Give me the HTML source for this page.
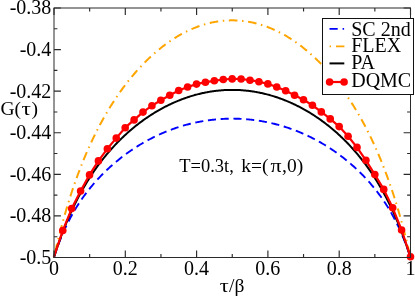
<!DOCTYPE html><html><head><meta charset="utf-8"><style>html,body{margin:0;padding:0;background:#fff}svg{display:block}</style></head><body><svg width="415" height="299" viewBox="0 0 415 299">
<rect width="415" height="299" fill="#fff"/>
<g font-family="'Liberation Serif', serif" font-size="19.5" fill="#000">
<path d="M53.85,257.70 L54.74,254.95 L55.63,252.29 L56.52,249.71 L57.42,247.21 L58.31,244.79 L59.20,242.43 L60.09,240.15 L60.98,237.93 L61.87,235.78 L62.77,233.68 L63.66,231.64 L64.55,229.65 L65.44,227.72 L66.33,225.83 L67.22,223.99 L68.12,222.20 L69.01,220.45 L69.90,218.74 L70.79,217.07 L71.68,215.44 L72.57,213.85 L73.47,212.28 L74.36,210.76 L75.25,209.26 L76.14,207.80 L77.03,206.36 L77.92,204.95 L78.82,203.57 L79.71,202.22 L80.60,200.89 L81.49,199.59 L82.38,198.31 L83.27,197.05 L84.17,195.81 L85.06,194.60 L85.95,193.40 L86.84,192.23 L87.73,191.07 L88.62,189.94 L89.52,188.82 L90.41,187.72 L91.30,186.63 L92.19,185.56 L93.08,184.51 L93.97,183.48 L94.86,182.45 L95.76,181.45 L96.65,180.45 L97.54,179.47 L98.43,178.51 L99.32,177.56 L100.21,176.62 L101.11,175.69 L102.00,174.78 L102.89,173.88 L103.78,172.98 L104.67,172.11 L105.56,171.24 L106.46,170.38 L107.35,169.54 L108.24,168.70 L109.13,167.88 L110.02,167.06 L110.91,166.26 L111.81,165.46 L112.70,164.68 L113.59,163.90 L114.48,163.14 L115.37,162.38 L116.26,161.64 L117.16,160.90 L118.05,160.17 L118.94,159.45 L119.83,158.74 L120.72,158.03 L121.61,157.34 L122.51,156.65 L123.40,155.97 L124.29,155.30 L125.18,154.64 L126.07,153.98 L126.96,153.34 L127.85,152.70 L128.75,152.07 L129.64,151.44 L130.53,150.83 L131.42,150.22 L132.31,149.61 L133.20,149.02 L134.10,148.43 L134.99,147.85 L135.88,147.28 L136.77,146.71 L137.66,146.15 L138.55,145.60 L139.45,145.05 L140.34,144.51 L141.23,143.98 L142.12,143.46 L143.01,142.94 L143.90,142.42 L144.80,141.92 L145.69,141.42 L146.58,140.92 L147.47,140.44 L148.36,139.96 L149.25,139.48 L150.15,139.01 L151.04,138.55 L151.93,138.09 L152.82,137.64 L153.71,137.20 L154.60,136.76 L155.50,136.33 L156.39,135.90 L157.28,135.48 L158.17,135.07 L159.06,134.66 L159.95,134.25 L160.84,133.86 L161.74,133.46 L162.63,133.08 L163.52,132.70 L164.41,132.32 L165.30,131.95 L166.19,131.59 L167.09,131.23 L167.98,130.88 L168.87,130.53 L169.76,130.19 L170.65,129.86 L171.54,129.52 L172.44,129.20 L173.33,128.88 L174.22,128.56 L175.11,128.25 L176.00,127.95 L176.89,127.65 L177.79,127.36 L178.68,127.07 L179.57,126.78 L180.46,126.51 L181.35,126.23 L182.24,125.96 L183.14,125.70 L184.03,125.44 L184.92,125.19 L185.81,124.94 L186.70,124.70 L187.59,124.46 L188.49,124.23 L189.38,124.00 L190.27,123.78 L191.16,123.56 L192.05,123.35 L192.94,123.14 L193.84,122.94 L194.73,122.74 L195.62,122.54 L196.51,122.36 L197.40,122.17 L198.29,121.99 L199.18,121.82 L200.08,121.65 L200.97,121.48 L201.86,121.32 L202.75,121.17 L203.64,121.02 L204.53,120.87 L205.43,120.73 L206.32,120.60 L207.21,120.46 L208.10,120.34 L208.99,120.22 L209.88,120.10 L210.78,119.99 L211.67,119.88 L212.56,119.77 L213.45,119.68 L214.34,119.58 L215.23,119.49 L216.13,119.41 L217.02,119.33 L217.91,119.25 L218.80,119.18 L219.69,119.11 L220.58,119.05 L221.48,118.99 L222.37,118.94 L223.26,118.89 L224.15,118.85 L225.04,118.81 L225.93,118.78 L226.83,118.75 L227.72,118.72 L228.61,118.70 L229.50,118.69 L230.39,118.67 L231.28,118.67 L232.17,118.67 L233.07,118.67 L233.96,118.67 L234.85,118.69 L235.74,118.70 L236.63,118.72 L237.52,118.75 L238.42,118.78 L239.31,118.81 L240.20,118.85 L241.09,118.89 L241.98,118.94 L242.87,118.99 L243.77,119.05 L244.66,119.11 L245.55,119.18 L246.44,119.25 L247.33,119.33 L248.22,119.41 L249.12,119.49 L250.01,119.58 L250.90,119.68 L251.79,119.77 L252.68,119.88 L253.57,119.99 L254.47,120.10 L255.36,120.22 L256.25,120.34 L257.14,120.46 L258.03,120.60 L258.92,120.73 L259.82,120.87 L260.71,121.02 L261.60,121.17 L262.49,121.32 L263.38,121.48 L264.27,121.65 L265.17,121.82 L266.06,121.99 L266.95,122.17 L267.84,122.36 L268.73,122.54 L269.62,122.74 L270.51,122.94 L271.41,123.14 L272.30,123.35 L273.19,123.56 L274.08,123.78 L274.97,124.00 L275.86,124.23 L276.76,124.46 L277.65,124.70 L278.54,124.94 L279.43,125.19 L280.32,125.44 L281.21,125.70 L282.11,125.96 L283.00,126.23 L283.89,126.51 L284.78,126.78 L285.67,127.07 L286.56,127.36 L287.46,127.65 L288.35,127.95 L289.24,128.25 L290.13,128.56 L291.02,128.88 L291.91,129.20 L292.81,129.52 L293.70,129.86 L294.59,130.19 L295.48,130.53 L296.37,130.88 L297.26,131.23 L298.16,131.59 L299.05,131.95 L299.94,132.32 L300.83,132.70 L301.72,133.08 L302.61,133.46 L303.50,133.86 L304.40,134.25 L305.29,134.66 L306.18,135.07 L307.07,135.48 L307.96,135.90 L308.85,136.33 L309.75,136.76 L310.64,137.20 L311.53,137.64 L312.42,138.09 L313.31,138.55 L314.20,139.01 L315.10,139.48 L315.99,139.96 L316.88,140.44 L317.77,140.92 L318.66,141.42 L319.55,141.92 L320.45,142.42 L321.34,142.94 L322.23,143.46 L323.12,143.98 L324.01,144.51 L324.90,145.05 L325.80,145.60 L326.69,146.15 L327.58,146.71 L328.47,147.28 L329.36,147.85 L330.25,148.43 L331.15,149.02 L332.04,149.61 L332.93,150.22 L333.82,150.83 L334.71,151.44 L335.60,152.07 L336.50,152.70 L337.39,153.34 L338.28,153.98 L339.17,154.64 L340.06,155.30 L340.95,155.97 L341.84,156.65 L342.74,157.34 L343.63,158.03 L344.52,158.74 L345.41,159.45 L346.30,160.17 L347.19,160.90 L348.09,161.64 L348.98,162.38 L349.87,163.14 L350.76,163.90 L351.65,164.68 L352.54,165.46 L353.44,166.26 L354.33,167.06 L355.22,167.88 L356.11,168.70 L357.00,169.54 L357.89,170.38 L358.79,171.24 L359.68,172.11 L360.57,172.98 L361.46,173.88 L362.35,174.78 L363.24,175.69 L364.14,176.62 L365.03,177.56 L365.92,178.51 L366.81,179.47 L367.70,180.45 L368.59,181.45 L369.49,182.45 L370.38,183.48 L371.27,184.51 L372.16,185.56 L373.05,186.63 L373.94,187.72 L374.84,188.82 L375.73,189.94 L376.62,191.07 L377.51,192.23 L378.40,193.40 L379.29,194.60 L380.18,195.81 L381.08,197.05 L381.97,198.31 L382.86,199.59 L383.75,200.89 L384.64,202.22 L385.53,203.57 L386.43,204.95 L387.32,206.36 L388.21,207.80 L389.10,209.26 L389.99,210.76 L390.88,212.28 L391.78,213.85 L392.67,215.44 L393.56,217.07 L394.45,218.74 L395.34,220.45 L396.23,222.20 L397.13,223.99 L398.02,225.83 L398.91,227.72 L399.80,229.65 L400.69,231.64 L401.58,233.68 L402.48,235.78 L403.37,237.93 L404.26,240.15 L405.15,242.43 L406.04,244.79 L406.93,247.21 L407.83,249.71 L408.72,252.29 L409.61,254.95 L410.50,257.70" fill="none" stroke="#0000ff" stroke-width="1.9" stroke-dasharray="8.1,4.68" stroke-dashoffset="-0.8"/>
<path d="M53.85,257.65 L54.74,253.75 L55.63,249.92 L56.52,246.17 L57.42,242.50 L58.31,238.90 L59.20,235.36 L60.09,231.90 L60.98,228.50 L61.87,225.17 L62.77,221.90 L63.66,218.69 L64.55,215.54 L65.44,212.44 L66.33,209.41 L67.22,206.42 L68.12,203.49 L69.01,200.62 L69.90,197.79 L70.79,195.01 L71.68,192.28 L72.57,189.60 L73.47,186.96 L74.36,184.37 L75.25,181.82 L76.14,179.31 L77.03,176.85 L77.92,174.42 L78.82,172.03 L79.71,169.68 L80.60,167.37 L81.49,165.09 L82.38,162.85 L83.27,160.64 L84.17,158.47 L85.06,156.33 L85.95,154.22 L86.84,152.15 L87.73,150.10 L88.62,148.09 L89.52,146.10 L90.41,144.14 L91.30,142.22 L92.19,140.31 L93.08,138.44 L93.97,136.59 L94.86,134.77 L95.76,132.97 L96.65,131.20 L97.54,129.45 L98.43,127.72 L99.32,126.02 L100.21,124.34 L101.11,122.69 L102.00,121.05 L102.89,119.44 L103.78,117.84 L104.67,116.27 L105.56,114.72 L106.46,113.19 L107.35,111.68 L108.24,110.18 L109.13,108.71 L110.02,107.25 L110.91,105.82 L111.81,104.40 L112.70,103.00 L113.59,101.61 L114.48,100.25 L115.37,98.89 L116.26,97.56 L117.16,96.24 L118.05,94.94 L118.94,93.66 L119.83,92.39 L120.72,91.13 L121.61,89.89 L122.51,88.67 L123.40,87.46 L124.29,86.26 L125.18,85.08 L126.07,83.91 L126.96,82.76 L127.85,81.62 L128.75,80.49 L129.64,79.38 L130.53,78.28 L131.42,77.20 L132.31,76.12 L133.20,75.06 L134.10,74.02 L134.99,72.98 L135.88,71.96 L136.77,70.95 L137.66,69.95 L138.55,68.97 L139.45,67.99 L140.34,67.03 L141.23,66.08 L142.12,65.14 L143.01,64.21 L143.90,63.30 L144.80,62.39 L145.69,61.50 L146.58,60.62 L147.47,59.75 L148.36,58.89 L149.25,58.04 L150.15,57.20 L151.04,56.37 L151.93,55.56 L152.82,54.75 L153.71,53.95 L154.60,53.17 L155.50,52.39 L156.39,51.63 L157.28,50.88 L158.17,50.13 L159.06,49.40 L159.95,48.67 L160.84,47.96 L161.74,47.26 L162.63,46.56 L163.52,45.88 L164.41,45.20 L165.30,44.54 L166.19,43.88 L167.09,43.24 L167.98,42.60 L168.87,41.97 L169.76,41.36 L170.65,40.75 L171.54,40.15 L172.44,39.56 L173.33,38.99 L174.22,38.42 L175.11,37.86 L176.00,37.30 L176.89,36.76 L177.79,36.23 L178.68,35.71 L179.57,35.19 L180.46,34.69 L181.35,34.19 L182.24,33.70 L183.14,33.23 L184.03,32.76 L184.92,32.30 L185.81,31.84 L186.70,31.40 L187.59,30.97 L188.49,30.55 L189.38,30.13 L190.27,29.72 L191.16,29.33 L192.05,28.94 L192.94,28.56 L193.84,28.18 L194.73,27.82 L195.62,27.47 L196.51,27.12 L197.40,26.79 L198.29,26.46 L199.18,26.14 L200.08,25.83 L200.97,25.53 L201.86,25.23 L202.75,24.95 L203.64,24.67 L204.53,24.41 L205.43,24.15 L206.32,23.90 L207.21,23.66 L208.10,23.42 L208.99,23.20 L209.88,22.98 L210.78,22.77 L211.67,22.58 L212.56,22.39 L213.45,22.20 L214.34,22.03 L215.23,21.87 L216.13,21.71 L217.02,21.56 L217.91,21.42 L218.80,21.29 L219.69,21.17 L220.58,21.05 L221.48,20.95 L222.37,20.85 L223.26,20.76 L224.15,20.68 L225.04,20.61 L225.93,20.55 L226.83,20.49 L227.72,20.45 L228.61,20.41 L229.50,20.38 L230.39,20.36 L231.28,20.35 L232.17,20.34 L233.07,20.35 L233.96,20.36 L234.85,20.38 L235.74,20.41 L236.63,20.45 L237.52,20.49 L238.42,20.55 L239.31,20.61 L240.20,20.68 L241.09,20.76 L241.98,20.85 L242.87,20.95 L243.77,21.05 L244.66,21.17 L245.55,21.29 L246.44,21.42 L247.33,21.56 L248.22,21.71 L249.12,21.87 L250.01,22.03 L250.90,22.20 L251.79,22.39 L252.68,22.58 L253.57,22.77 L254.47,22.98 L255.36,23.20 L256.25,23.42 L257.14,23.66 L258.03,23.90 L258.92,24.15 L259.82,24.41 L260.71,24.67 L261.60,24.95 L262.49,25.23 L263.38,25.53 L264.27,25.83 L265.17,26.14 L266.06,26.46 L266.95,26.79 L267.84,27.12 L268.73,27.47 L269.62,27.82 L270.51,28.18 L271.41,28.56 L272.30,28.94 L273.19,29.33 L274.08,29.72 L274.97,30.13 L275.86,30.55 L276.76,30.97 L277.65,31.40 L278.54,31.84 L279.43,32.30 L280.32,32.76 L281.21,33.23 L282.11,33.70 L283.00,34.19 L283.89,34.69 L284.78,35.19 L285.67,35.71 L286.56,36.23 L287.46,36.76 L288.35,37.30 L289.24,37.86 L290.13,38.42 L291.02,38.99 L291.91,39.56 L292.81,40.15 L293.70,40.75 L294.59,41.36 L295.48,41.97 L296.37,42.60 L297.26,43.24 L298.16,43.88 L299.05,44.54 L299.94,45.20 L300.83,45.88 L301.72,46.56 L302.61,47.26 L303.50,47.96 L304.40,48.67 L305.29,49.40 L306.18,50.13 L307.07,50.88 L307.96,51.63 L308.85,52.39 L309.75,53.17 L310.64,53.95 L311.53,54.75 L312.42,55.56 L313.31,56.37 L314.20,57.20 L315.10,58.04 L315.99,58.89 L316.88,59.75 L317.77,60.62 L318.66,61.50 L319.55,62.39 L320.45,63.30 L321.34,64.21 L322.23,65.14 L323.12,66.08 L324.01,67.03 L324.90,67.99 L325.80,68.97 L326.69,69.95 L327.58,70.95 L328.47,71.96 L329.36,72.98 L330.25,74.02 L331.15,75.06 L332.04,76.12 L332.93,77.20 L333.82,78.28 L334.71,79.38 L335.60,80.49 L336.50,81.62 L337.39,82.76 L338.28,83.91 L339.17,85.08 L340.06,86.26 L340.95,87.46 L341.84,88.67 L342.74,89.89 L343.63,91.13 L344.52,92.39 L345.41,93.66 L346.30,94.94 L347.19,96.24 L348.09,97.56 L348.98,98.89 L349.87,100.25 L350.76,101.61 L351.65,103.00 L352.54,104.40 L353.44,105.82 L354.33,107.25 L355.22,108.71 L356.11,110.18 L357.00,111.68 L357.89,113.19 L358.79,114.72 L359.68,116.27 L360.57,117.84 L361.46,119.44 L362.35,121.05 L363.24,122.69 L364.14,124.34 L365.03,126.02 L365.92,127.72 L366.81,129.45 L367.70,131.20 L368.59,132.97 L369.49,134.77 L370.38,136.59 L371.27,138.44 L372.16,140.31 L373.05,142.22 L373.94,144.14 L374.84,146.10 L375.73,148.09 L376.62,150.10 L377.51,152.15 L378.40,154.22 L379.29,156.33 L380.18,158.47 L381.08,160.64 L381.97,162.85 L382.86,165.09 L383.75,167.37 L384.64,169.68 L385.53,172.03 L386.43,174.42 L387.32,176.85 L388.21,179.31 L389.10,181.82 L389.99,184.37 L390.88,186.96 L391.78,189.60 L392.67,192.28 L393.56,195.01 L394.45,197.79 L395.34,200.62 L396.23,203.49 L397.13,206.42 L398.02,209.41 L398.91,212.44 L399.80,215.54 L400.69,218.69 L401.58,221.90 L402.48,225.17 L403.37,228.50 L404.26,231.90 L405.15,235.36 L406.04,238.90 L406.93,242.50 L407.83,246.17 L408.72,249.92 L409.61,253.75 L410.50,257.65" fill="none" stroke="#ffa500" stroke-width="2" stroke-dasharray="1.5,4.6,8.6,4.6" stroke-dashoffset="0.5"/>
<path d="M53.85,257.50 L54.74,254.70 L55.63,251.96 L56.52,249.28 L57.42,246.64 L58.31,244.06 L59.20,241.53 L60.09,239.05 L60.98,236.62 L61.87,234.24 L62.77,231.90 L63.66,229.60 L64.55,227.35 L65.44,225.14 L66.33,222.97 L67.22,220.84 L68.12,218.75 L69.01,216.70 L69.90,214.68 L70.79,212.70 L71.68,210.76 L72.57,208.85 L73.47,206.97 L74.36,205.12 L75.25,203.30 L76.14,201.52 L77.03,199.76 L77.92,198.04 L78.82,196.34 L79.71,194.67 L80.60,193.03 L81.49,191.41 L82.38,189.82 L83.27,188.25 L84.17,186.71 L85.06,185.20 L85.95,183.70 L86.84,182.23 L87.73,180.78 L88.62,179.35 L89.52,177.95 L90.41,176.56 L91.30,175.20 L92.19,173.85 L93.08,172.53 L93.97,171.22 L94.86,169.93 L95.76,168.66 L96.65,167.41 L97.54,166.18 L98.43,164.96 L99.32,163.76 L100.21,162.58 L101.11,161.41 L102.00,160.26 L102.89,159.12 L103.78,158.00 L104.67,156.89 L105.56,155.80 L106.46,154.72 L107.35,153.66 L108.24,152.61 L109.13,151.57 L110.02,150.55 L110.91,149.54 L111.81,148.54 L112.70,147.56 L113.59,146.59 L114.48,145.63 L115.37,144.68 L116.26,143.74 L117.16,142.82 L118.05,141.91 L118.94,141.01 L119.83,140.11 L120.72,139.24 L121.61,138.37 L122.51,137.51 L123.40,136.66 L124.29,135.82 L125.18,135.00 L126.07,134.18 L126.96,133.37 L127.85,132.58 L128.75,131.79 L129.64,131.01 L130.53,130.24 L131.42,129.48 L132.31,128.73 L133.20,127.99 L134.10,127.26 L134.99,126.54 L135.88,125.83 L136.77,125.12 L137.66,124.42 L138.55,123.74 L139.45,123.06 L140.34,122.38 L141.23,121.72 L142.12,121.07 L143.01,120.42 L143.90,119.78 L144.80,119.15 L145.69,118.53 L146.58,117.91 L147.47,117.31 L148.36,116.71 L149.25,116.11 L150.15,115.53 L151.04,114.95 L151.93,114.38 L152.82,113.82 L153.71,113.27 L154.60,112.72 L155.50,112.18 L156.39,111.65 L157.28,111.12 L158.17,110.61 L159.06,110.09 L159.95,109.59 L160.84,109.09 L161.74,108.60 L162.63,108.12 L163.52,107.64 L164.41,107.17 L165.30,106.71 L166.19,106.26 L167.09,105.81 L167.98,105.36 L168.87,104.93 L169.76,104.50 L170.65,104.08 L171.54,103.66 L172.44,103.25 L173.33,102.85 L174.22,102.45 L175.11,102.06 L176.00,101.68 L176.89,101.30 L177.79,100.93 L178.68,100.57 L179.57,100.21 L180.46,99.86 L181.35,99.51 L182.24,99.17 L183.14,98.84 L184.03,98.52 L184.92,98.20 L185.81,97.88 L186.70,97.57 L187.59,97.27 L188.49,96.98 L189.38,96.69 L190.27,96.41 L191.16,96.13 L192.05,95.86 L192.94,95.60 L193.84,95.34 L194.73,95.08 L195.62,94.84 L196.51,94.60 L197.40,94.36 L198.29,94.14 L199.18,93.91 L200.08,93.70 L200.97,93.49 L201.86,93.29 L202.75,93.09 L203.64,92.90 L204.53,92.71 L205.43,92.53 L206.32,92.36 L207.21,92.19 L208.10,92.03 L208.99,91.87 L209.88,91.72 L210.78,91.58 L211.67,91.44 L212.56,91.31 L213.45,91.18 L214.34,91.06 L215.23,90.94 L216.13,90.84 L217.02,90.73 L217.91,90.64 L218.80,90.55 L219.69,90.46 L220.58,90.38 L221.48,90.31 L222.37,90.24 L223.26,90.18 L224.15,90.12 L225.04,90.07 L225.93,90.03 L226.83,89.99 L227.72,89.96 L228.61,89.93 L229.50,89.91 L230.39,89.90 L231.28,89.89 L232.17,89.89 L233.07,89.89 L233.96,89.90 L234.85,89.91 L235.74,89.93 L236.63,89.96 L237.52,89.99 L238.42,90.03 L239.31,90.07 L240.20,90.12 L241.09,90.18 L241.98,90.24 L242.87,90.31 L243.77,90.38 L244.66,90.46 L245.55,90.55 L246.44,90.64 L247.33,90.73 L248.22,90.84 L249.12,90.94 L250.01,91.06 L250.90,91.18 L251.79,91.31 L252.68,91.44 L253.57,91.58 L254.47,91.72 L255.36,91.87 L256.25,92.03 L257.14,92.19 L258.03,92.36 L258.92,92.53 L259.82,92.71 L260.71,92.90 L261.60,93.09 L262.49,93.29 L263.38,93.49 L264.27,93.70 L265.17,93.91 L266.06,94.14 L266.95,94.36 L267.84,94.60 L268.73,94.84 L269.62,95.08 L270.51,95.34 L271.41,95.60 L272.30,95.86 L273.19,96.13 L274.08,96.41 L274.97,96.69 L275.86,96.98 L276.76,97.27 L277.65,97.57 L278.54,97.88 L279.43,98.20 L280.32,98.52 L281.21,98.84 L282.11,99.17 L283.00,99.51 L283.89,99.86 L284.78,100.21 L285.67,100.57 L286.56,100.93 L287.46,101.30 L288.35,101.68 L289.24,102.06 L290.13,102.45 L291.02,102.85 L291.91,103.25 L292.81,103.66 L293.70,104.08 L294.59,104.50 L295.48,104.93 L296.37,105.36 L297.26,105.81 L298.16,106.26 L299.05,106.71 L299.94,107.17 L300.83,107.64 L301.72,108.12 L302.61,108.60 L303.50,109.09 L304.40,109.59 L305.29,110.09 L306.18,110.61 L307.07,111.12 L307.96,111.65 L308.85,112.18 L309.75,112.72 L310.64,113.27 L311.53,113.82 L312.42,114.38 L313.31,114.95 L314.20,115.53 L315.10,116.11 L315.99,116.71 L316.88,117.31 L317.77,117.91 L318.66,118.53 L319.55,119.15 L320.45,119.78 L321.34,120.42 L322.23,121.07 L323.12,121.72 L324.01,122.38 L324.90,123.06 L325.80,123.74 L326.69,124.42 L327.58,125.12 L328.47,125.83 L329.36,126.54 L330.25,127.26 L331.15,127.99 L332.04,128.73 L332.93,129.48 L333.82,130.24 L334.71,131.01 L335.60,131.79 L336.50,132.58 L337.39,133.37 L338.28,134.18 L339.17,135.00 L340.06,135.82 L340.95,136.66 L341.84,137.51 L342.74,138.37 L343.63,139.24 L344.52,140.11 L345.41,141.01 L346.30,141.91 L347.19,142.82 L348.09,143.74 L348.98,144.68 L349.87,145.63 L350.76,146.59 L351.65,147.56 L352.54,148.54 L353.44,149.54 L354.33,150.55 L355.22,151.57 L356.11,152.61 L357.00,153.66 L357.89,154.72 L358.79,155.80 L359.68,156.89 L360.57,158.00 L361.46,159.12 L362.35,160.26 L363.24,161.41 L364.14,162.58 L365.03,163.76 L365.92,164.96 L366.81,166.18 L367.70,167.41 L368.59,168.66 L369.49,169.93 L370.38,171.22 L371.27,172.53 L372.16,173.85 L373.05,175.20 L373.94,176.56 L374.84,177.95 L375.73,179.35 L376.62,180.78 L377.51,182.23 L378.40,183.70 L379.29,185.20 L380.18,186.71 L381.08,188.25 L381.97,189.82 L382.86,191.41 L383.75,193.03 L384.64,194.67 L385.53,196.34 L386.43,198.04 L387.32,199.76 L388.21,201.52 L389.10,203.30 L389.99,205.12 L390.88,206.97 L391.78,208.85 L392.67,210.76 L393.56,212.70 L394.45,214.68 L395.34,216.70 L396.23,218.75 L397.13,220.84 L398.02,222.97 L398.91,225.14 L399.80,227.35 L400.69,229.60 L401.58,231.90 L402.48,234.24 L403.37,236.62 L404.26,239.05 L405.15,241.53 L406.04,244.06 L406.93,246.64 L407.83,249.28 L408.72,251.96 L409.61,254.70 L410.50,257.50" fill="none" stroke="#000" stroke-width="2"/>
<path d="M53.85,257.20 L62.77,230.60 L71.68,208.60 L80.60,191.00 L89.52,174.90 L98.43,160.90 L107.35,148.80 L116.26,138.10 L125.18,127.70 L134.10,119.90 L143.01,112.10 L151.93,105.70 L160.84,100.30 L169.76,95.20 L178.68,90.50 L187.59,87.00 L196.51,84.10 L205.43,82.20 L214.34,80.80 L223.26,79.50 L232.17,78.90 L241.09,79.00 L250.01,80.20 L258.92,81.70 L267.84,83.90 L276.76,87.00 L285.67,90.80 L294.59,95.30 L303.50,99.80 L312.42,105.25 L321.34,111.90 L330.25,118.90 L339.17,126.60 L348.09,136.20 L357.00,147.40 L365.92,160.30 L374.84,174.60 L383.75,189.40 L392.67,207.80 L401.58,230.00 L410.50,256.80" fill="none" stroke="#ff0000" stroke-width="2.2" stroke-linejoin="round"/>
<circle cx="62.77" cy="230.60" r="3.8" fill="#ff0000"/>
<circle cx="71.68" cy="208.60" r="3.8" fill="#ff0000"/>
<circle cx="80.60" cy="191.00" r="3.8" fill="#ff0000"/>
<circle cx="89.52" cy="174.90" r="3.8" fill="#ff0000"/>
<circle cx="98.43" cy="160.90" r="3.8" fill="#ff0000"/>
<circle cx="107.35" cy="148.80" r="3.8" fill="#ff0000"/>
<circle cx="116.26" cy="138.10" r="3.8" fill="#ff0000"/>
<circle cx="125.18" cy="127.70" r="3.8" fill="#ff0000"/>
<circle cx="134.10" cy="119.90" r="3.8" fill="#ff0000"/>
<circle cx="143.01" cy="112.10" r="3.8" fill="#ff0000"/>
<circle cx="151.93" cy="105.70" r="3.8" fill="#ff0000"/>
<circle cx="160.84" cy="100.30" r="3.8" fill="#ff0000"/>
<circle cx="169.76" cy="95.20" r="3.8" fill="#ff0000"/>
<circle cx="178.68" cy="90.50" r="3.8" fill="#ff0000"/>
<circle cx="187.59" cy="87.00" r="3.8" fill="#ff0000"/>
<circle cx="196.51" cy="84.10" r="3.8" fill="#ff0000"/>
<circle cx="205.43" cy="82.20" r="3.8" fill="#ff0000"/>
<circle cx="214.34" cy="80.80" r="3.8" fill="#ff0000"/>
<circle cx="223.26" cy="79.50" r="3.8" fill="#ff0000"/>
<circle cx="232.17" cy="78.90" r="3.8" fill="#ff0000"/>
<circle cx="241.09" cy="79.00" r="3.8" fill="#ff0000"/>
<circle cx="250.01" cy="80.20" r="3.8" fill="#ff0000"/>
<circle cx="258.92" cy="81.70" r="3.8" fill="#ff0000"/>
<circle cx="267.84" cy="83.90" r="3.8" fill="#ff0000"/>
<circle cx="276.76" cy="87.00" r="3.8" fill="#ff0000"/>
<circle cx="285.67" cy="90.80" r="3.8" fill="#ff0000"/>
<circle cx="294.59" cy="95.30" r="3.8" fill="#ff0000"/>
<circle cx="303.50" cy="99.80" r="3.8" fill="#ff0000"/>
<circle cx="312.42" cy="105.25" r="3.8" fill="#ff0000"/>
<circle cx="321.34" cy="111.90" r="3.8" fill="#ff0000"/>
<circle cx="330.25" cy="118.90" r="3.8" fill="#ff0000"/>
<circle cx="339.17" cy="126.60" r="3.8" fill="#ff0000"/>
<circle cx="348.09" cy="136.20" r="3.8" fill="#ff0000"/>
<circle cx="357.00" cy="147.40" r="3.8" fill="#ff0000"/>
<circle cx="365.92" cy="160.30" r="3.8" fill="#ff0000"/>
<circle cx="374.84" cy="174.60" r="3.8" fill="#ff0000"/>
<circle cx="383.75" cy="189.40" r="3.8" fill="#ff0000"/>
<circle cx="392.67" cy="207.80" r="3.8" fill="#ff0000"/>
<circle cx="401.58" cy="230.00" r="3.8" fill="#ff0000"/>
<circle cx="410.50" cy="256.80" r="3.8" fill="#ff0000"/>
<path d="M54.00,257.5 v-6.9 M54.00,8.0 v6.9 M89.65,257.5 v-3.4 M89.65,8.0 v3.4 M125.30,257.5 v-6.9 M125.30,8.0 v6.9 M160.95,257.5 v-3.4 M160.95,8.0 v3.4 M196.60,257.5 v-6.9 M196.60,8.0 v6.9 M232.25,257.5 v-3.4 M232.25,8.0 v3.4 M267.90,257.5 v-6.9 M267.90,8.0 v6.9 M303.55,257.5 v-3.4 M303.55,8.0 v3.4 M339.20,257.5 v-6.9 M339.20,8.0 v6.9 M374.85,257.5 v-3.4 M374.85,8.0 v3.4 M410.50,257.5 v-6.9 M410.50,8.0 v6.9 M54.0,257.50 h6.9 M410.5,257.50 h-6.9 M54.0,236.71 h3.4 M410.5,236.71 h-3.4 M54.0,215.92 h6.9 M410.5,215.92 h-6.9 M54.0,195.12 h3.4 M410.5,195.12 h-3.4 M54.0,174.33 h6.9 M410.5,174.33 h-6.9 M54.0,153.54 h3.4 M410.5,153.54 h-3.4 M54.0,132.75 h6.9 M410.5,132.75 h-6.9 M54.0,111.96 h3.4 M410.5,111.96 h-3.4 M54.0,91.17 h6.9 M410.5,91.17 h-6.9 M54.0,70.38 h3.4 M410.5,70.38 h-3.4 M54.0,49.58 h6.9 M410.5,49.58 h-6.9 M54.0,28.79 h3.4 M410.5,28.79 h-3.4 M54.0,8.00 h6.9 M410.5,8.00 h-6.9" stroke="#2a2a2a" stroke-width="1.15" fill="none"/>
<rect x="54.0" y="8.0" width="356.5" height="249.5" fill="none" stroke="#2a2a2a" stroke-width="1"/>
<text x="51.3" y="263.8" text-anchor="end" font-size="20">-0.5</text>
<text x="51.3" y="222.2" text-anchor="end" font-size="20">-0.48</text>
<text x="51.3" y="180.7" text-anchor="end" font-size="20">-0.46</text>
<text x="51.3" y="139.1" text-anchor="end" font-size="20">-0.44</text>
<text x="51.3" y="97.5" text-anchor="end" font-size="20">-0.42</text>
<text x="51.3" y="55.9" text-anchor="end" font-size="20">-0.4</text>
<text x="51.3" y="14.3" text-anchor="end" font-size="20">-0.38</text>
<text x="53.9" y="274.8" text-anchor="middle" font-size="20">0</text>
<text x="125.2" y="274.8" text-anchor="middle" font-size="20">0.2</text>
<text x="196.5" y="274.8" text-anchor="middle" font-size="20">0.4</text>
<text x="267.8" y="274.8" text-anchor="middle" font-size="20">0.6</text>
<text x="339.2" y="274.8" text-anchor="middle" font-size="20">0.8</text>
<text x="410.5" y="274.8" text-anchor="middle" font-size="20">1</text>
<text x="0.5" y="115.3">G(</text>
<text transform="translate(21.6,115.3) scale(1.2,1)">τ</text>
<text x="31.6" y="115.3">)</text>
<text transform="translate(219.8,292) scale(1.15,1)">τ</text>
<text x="229" y="292">/β</text>
<text x="179.3" y="171.5" textLength="54.5" lengthAdjust="spacingAndGlyphs">T=0.3t,</text>
<text x="241.3" y="171.5">k=(</text>
<text transform="translate(270.6,171.5) scale(1.12,1)">π</text>
<text x="282" y="171.5">,0)</text>
<rect x="322.5" y="18.5" width="91" height="76" fill="#fff" stroke="#111" stroke-width="1"/>
<path d="M329.5,28.8 h14.6" stroke="#0000ff" stroke-width="1.8" stroke-dasharray="8.2,4.9" fill="none"/>
<path d="M329.6,46.3 h14.8" stroke="#ffa500" stroke-width="1.8" stroke-dasharray="1.4,5,8.4,5" fill="none"/>
<path d="M329.5,63.4 h14.8" stroke="#000" stroke-width="2" fill="none"/>
<path d="M329.5,82 h14.8" stroke="#ff0000" stroke-width="2.2" fill="none"/>
<circle cx="329.6" cy="82" r="3.8" fill="#f00"/><circle cx="344.1" cy="82" r="3.8" fill="#f00"/>
<text x="351.2" y="35.6" font-size="20">SC 2nd</text>
<text x="351.2" y="52.4" font-size="20">FLEX</text>
<text x="351.2" y="69.3" font-size="20">PA</text>
<text x="351.2" y="86.7" font-size="20">DQMC</text>
</g></svg></body></html>
